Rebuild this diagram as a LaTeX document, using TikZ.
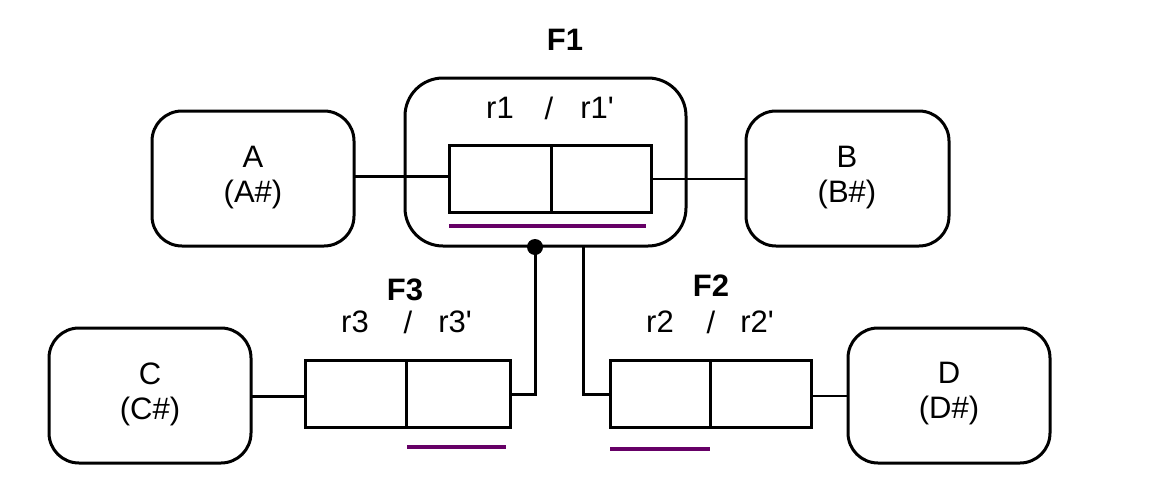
\documentclass[tikz,border=0pt]{standalone}
\usepackage{fontspec}
\setmainfont{Liberation Sans}
\begin{document}
\begin{tikzpicture}[x=1pt,y=-1pt,
  box/.style={draw,line width=3pt,rounded corners=30pt},
  cell/.style={draw,line width=3pt},
  wire/.style={line width=3pt},
  thin/.style={line width=2.2pt},
  pur/.style={draw=violet!80!black,line width=3.5pt},
  lbl/.style={font=\fontsize{31}{35}\selectfont,align=center},
  ttl/.style={font=\fontsize{31}{35}\selectfont\bfseries}]
\useasboundingbox (0,0) rectangle (1151,482);
% outer boxes
\draw[box] (152,111) rectangle (354,246);
\node[lbl] (A) at (253,178) {A\\(A\#)};
\draw[box] (746,111) rectangle (949,246);
\node[lbl] (B) at (847,178) {B\\(B\#)};
\draw[box] (49,328) rectangle (251,463);
\node[lbl] (C) at (150,394) {C\\(C\#)};
\draw[box] (848,328) rectangle (1050,463);
\node[lbl] (D) at (949,394) {D\\(D\#)};
\draw[box,rounded corners=38pt] (405,78) rectangle (686,246);
% F1
\node[ttl] (F1) at (565,40) {F1};
\node[lbl] (r1) at (500,108) {r1};
\node[lbl] (s1) at (549,108) {/};
\node[lbl] (r1p) at (597,108) {r1\textquotesingle};
\draw[cell] (449,145) rectangle (651,212);
\draw[cell] (551,145) -- (551,212);
\draw[pur] (449,226) -- (646,226);
% F3
\node[ttl] (F3) at (405,290) {F3};
\node[lbl] (r3) at (355,322) {r3};
\node[lbl] (s3) at (408,322) {/};
\node[lbl] (r3p) at (455,322) {r3\textquotesingle};
\draw[cell] (305,360) rectangle (510,427);
\draw[cell] (406,360) -- (406,427);
\draw[pur] (407,447) -- (506,447);
% F2
\node[ttl] (F2) at (711,286) {F2};
\node[lbl] (r2) at (660,322) {r2};
\node[lbl] (s2) at (711,322) {/};
\node[lbl] (r2p) at (757,322) {r2\textquotesingle};
\draw[cell] (610,360) rectangle (811,427);
\draw[cell] (710,360) -- (710,427);
\draw[pur] (610,449) -- (710,449);
% wires
\draw[wire] (354,176) -- (449,176);
\draw[thin] (651,179) -- (746,179);
\draw[wire] (251,396) -- (305,396);
\draw[thin] (811,396) -- (848,396);
\coordinate (j1) at (535,247);
\fill (j1) circle (8pt);
\draw[wire] (j1) |- (510,394);
\draw[wire] (583,246) |- (610,394);
\end{tikzpicture}
\end{document}
